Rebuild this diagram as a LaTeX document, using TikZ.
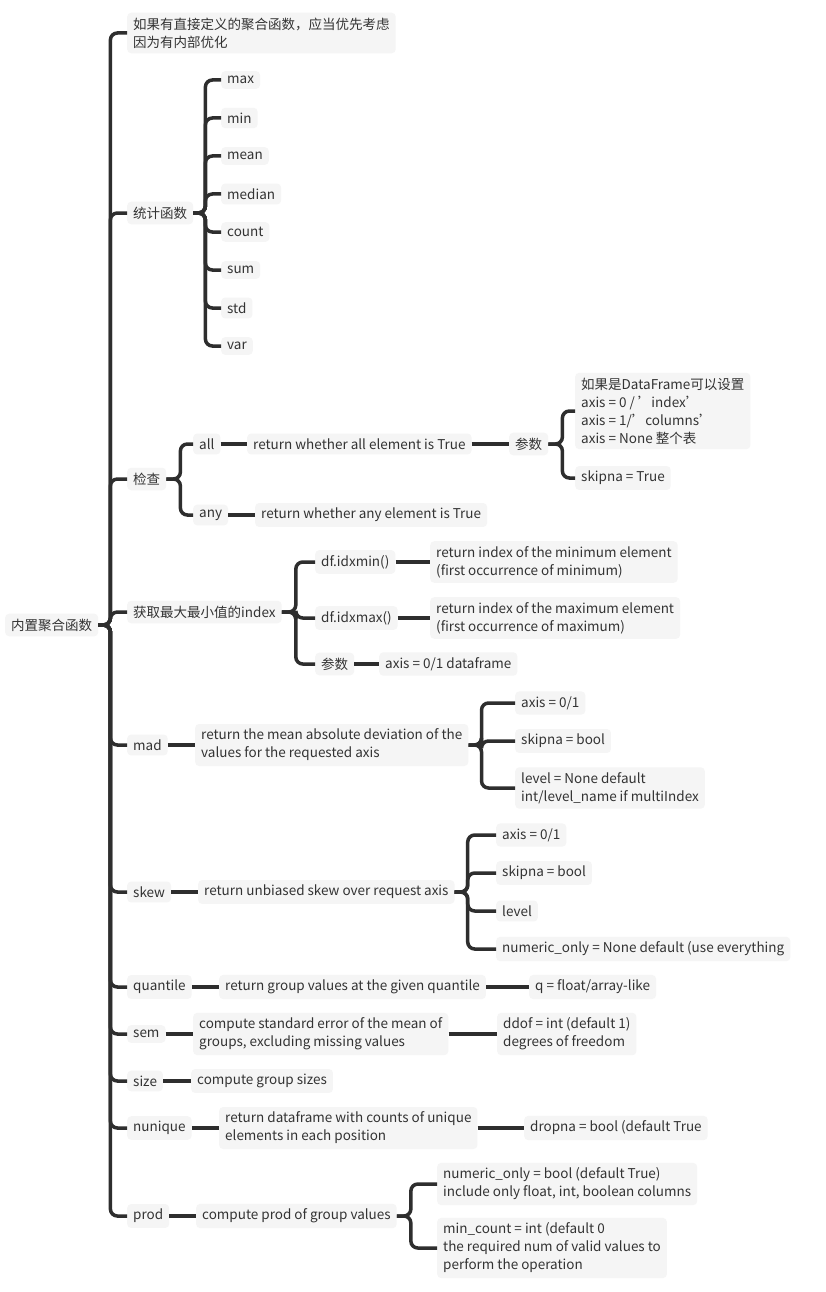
\documentclass[tikz,border=0pt]{standalone}
\usepackage{fontspec}
\setmainfont{Noto Sans CJK SC}
\begin{document}
\begin{tikzpicture}[x=1pt,y=-1pt,
  nd/.style={anchor=west,fill=boxc,rounded corners=4pt,inner xsep=6pt,inner ysep=5pt,align=left,text=txtc,font=\fontsize{13.5}{18}\selectfont},
  conn/.style={draw=linec,line width=3.5pt,rounded corners=7pt}]
\definecolor{boxc}{HTML}{F5F5F5}
\definecolor{txtc}{HTML}{333333}
\definecolor{linec}{HTML}{2E2E2E}
\useasboundingbox (0,0) rectangle (826,1292);
\fill[white] (0,0) rectangle (826,1292);
% root
\node[nd] (root) at (5,625) {内置聚合函数};
% level1
\node[nd] (n0) at (127,33) {如果有直接定义的聚合函数，应当优先考虑\\因为有内部优化};
\node[nd] (stat) at (127,213) {统计函数};
\node[nd] (chk) at (127,479) {检查};
\node[nd] (idx) at (127,612) {获取最大最小值的index};
\node[nd] (mad) at (127,745) {mad};
\node[nd] (skew) at (127,892) {skew};
\node[nd] (quan) at (127,987) {quantile};
\node[nd] (sem) at (127,1034) {sem};
\node[nd] (size) at (127,1081) {size};
\node[nd] (nuni) at (127,1128) {nunique};
\node[nd] (prod) at (127,1216) {prod};
\foreach \c in {n0,stat,chk,idx,mad,skew,quan,sem,size,nuni,prod}
  \draw[conn] (root.east) -- ++(12,0) |- (\c.west);
% stats
\foreach \t/\y [count=\i] in {max/80,min/118,mean/156,median/194,count/232,sum/270,std/308,var/346}{
  \node[nd] (s\i) at (221,\y) {\t};
  \draw[conn] (stat.east) -- ++(12,0) |- (s\i.west);}
% check
\node[nd] (all) at (193,444) {all};
\node[nd] (any) at (193,515) {any};
\draw[conn] (chk.east) -- ++(14,0) |- (all.west);
\draw[conn] (chk.east) -- ++(14,0) |- (any.west);
\node[nd] (allr) at (247,444) {return whether all element is True};
\node[nd] (anyr) at (255,515) {return whether any element is True};
\draw[conn] (all.east) -- (allr.west);
\draw[conn] (any.east) -- (anyr.west);
\node[nd] (par1) at (509,444) {参数};
\draw[conn] (allr.east) -- (par1.west);
\node[nd] (df) at (575,411) {如果是DataFrame可以设置\\axis = 0 / 'index'\\axis = 1/'columns'\\axis = None 整个表};
\node[nd] (skp) at (575,478) {skipna = True};
\draw[conn] (par1.east) -- ++(14,0) |- (df.west);
\draw[conn] (par1.east) -- ++(14,0) |- (skp.west);
% idx
\node[nd] (imin) at (315,562) {df.idxmin()};
\node[nd] (imax) at (315,618) {df.idxmax()};
\node[nd] (par2) at (315,664) {参数};
\foreach \c in {imin,imax,par2}
  \draw[conn] (idx.east) -- ++(14,0) |- (\c.west);
\node[nd] (iminr) at (430,562) {return index of the minimum element\\(first occurrence of minimum)};
\node[nd] (imaxr) at (430,618) {return index of the maximum element\\(first occurrence of maximum)};
\node[nd] (par2r) at (379,664) {axis = 0/1 dataframe};
\draw[conn] (imin.east) -- (iminr.west);
\draw[conn] (imax.east) -- (imaxr.west);
\draw[conn] (par2.east) -- (par2r.west);
% mad
\node[nd] (madr) at (195,745) {return the mean absolute deviation of the\\values for the requested axis};
\draw[conn] (mad.east) -- (madr.west);
\node[nd] (m1) at (515,703) {axis = 0/1};
\node[nd] (m2) at (515,741) {skipna = bool};
\node[nd] (m3) at (515,788) {level = None default\\int/level\_name if multiIndex};
\foreach \c in {m1,m2,m3}
  \draw[conn] (madr.east) -- ++(13,0) |- (\c.west);
% skew
\node[nd] (skr) at (198,892) {return unbiased skew over request axis};
\draw[conn] (skew.east) -- (skr.west);
\node[nd] (k1) at (496,835) {axis = 0/1};
\node[nd] (k2) at (496,873) {skipna = bool};
\node[nd] (k3) at (496,911) {level};
\node[nd] (k4) at (496,949) {numeric\_only = None default (use everything};
\foreach \c in {k1,k2,k3,k4}
  \draw[conn] (skr.east) -- ++(13,0) |- (\c.west);
% quantile
\node[nd] (qr) at (219,987) {return group values at the given quantile};
\node[nd] (qq) at (529,987) {q = float/array-like};
\draw[conn] (quan.east) -- (qr.west);
\draw[conn] (qr.east) -- (qq.west);
% sem
\node[nd] (semr) at (193,1034) {compute standard error of the mean of\\groups, excluding missing values};
\node[nd] (semd) at (497,1034) {ddof = int (default 1)\\degrees of freedom};
\draw[conn] (sem.east) -- (semr.west);
\draw[conn] (semr.east) -- (semd.west);
% size
\node[nd] (sizer) at (191,1081) {compute group sizes};
\draw[conn] (size.east) -- (sizer.west);
% nunique
\node[nd] (nur) at (219,1128) {return dataframe with counts of unique\\elements in each position};
\node[nd] (nud) at (524,1128) {dropna = bool (default True};
\draw[conn] (nuni.east) -- (nur.west);
\draw[conn] (nur.east) -- (nud.west);
% prod
\node[nd] (pr) at (196,1216) {compute prod of group values};
\draw[conn] (prod.east) -- (pr.west);
\node[nd] (p1) at (437,1184) {numeric\_only = bool (default True)\\include only float, int, boolean columns};
\node[nd] (p2) at (437,1248) {min\_count = int (default 0\\the required num of valid values to\\perform the operation};
\draw[conn] (pr.east) -- ++(14,0) |- (p1.west);
\draw[conn] (pr.east) -- ++(14,0) |- (p2.west);
\end{tikzpicture}
\end{document}
